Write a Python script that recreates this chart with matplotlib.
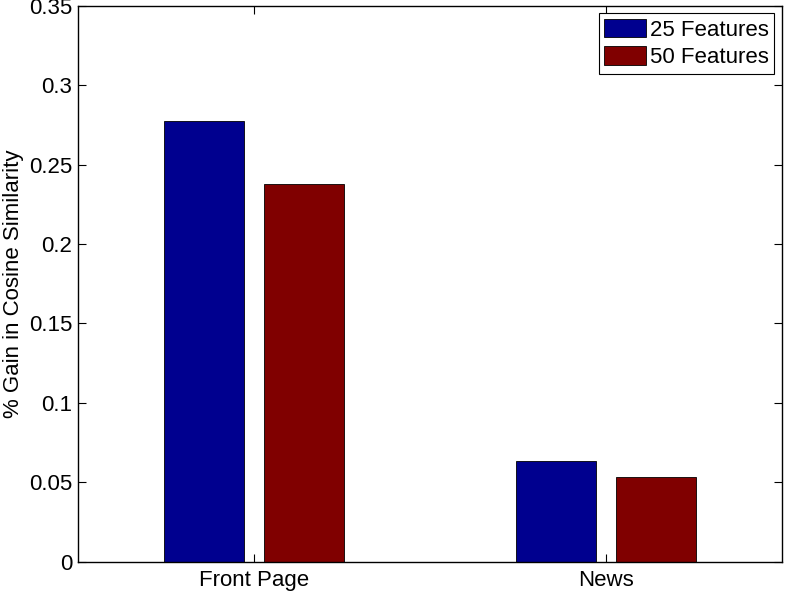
import numpy as np
import matplotlib.pyplot as plt

plt.rcParams['font.family'] = ['Liberation Sans', 'DejaVu Sans']

# data
categories = ['Front Page', 'News']
feat25 = [0.2772, 0.0634]
feat50 = [0.2377, 0.0533]
series_labels = ['25 Features', '50 Features']
yticks = [0, 0.05, 0.1, 0.15, 0.2, 0.25, 0.3, 0.35]
ytick_labels = ['0', '0.05', '0.1', '0.15', '0.2', '0.25', '0.3', '0.35']

fs = 16

fig = plt.figure(figsize=(7.85, 5.93), dpi=100)
ax = fig.add_axes([0.0994, 0.0523, 0.8968, 0.9384])

x = np.arange(1, len(categories) + 1)
w = 0.228
off = 0.143
ax.bar(x - off, feat25, w, color='#00008F', edgecolor='black', linewidth=0.6, label=series_labels[0])
ax.bar(x + off, feat50, w, color='#800000', edgecolor='black', linewidth=0.6, label=series_labels[1])

ax.set_xlim(0.5, 2.5)
ax.set_ylim(0, 0.35)
ax.set_xticks(x)
ax.set_xticklabels(categories, fontsize=fs)
ax.set_yticks(yticks)
ax.set_yticklabels(ytick_labels, fontsize=fs)
ax.tick_params(direction='in', length=6, width=0.8, top=True, right=True)
ax.tick_params(axis='x', pad=6)
ax.tick_params(axis='y', pad=4)
for s in ax.spines.values():
    s.set_linewidth(1.0)
ax.set_ylabel('% Gain in Cosine Similarity', fontsize=fs, labelpad=4)

leg = ax.legend(loc='upper right', fontsize=fs, fancybox=False, framealpha=1,
                edgecolor='black', borderpad=0.25, handlelength=1.9, handleheight=0.9,
                handletextpad=0.15, labelspacing=0.25, borderaxespad=0.35)
leg.get_frame().set_linewidth(0.8)

fig.savefig('out.png', dpi=100)
